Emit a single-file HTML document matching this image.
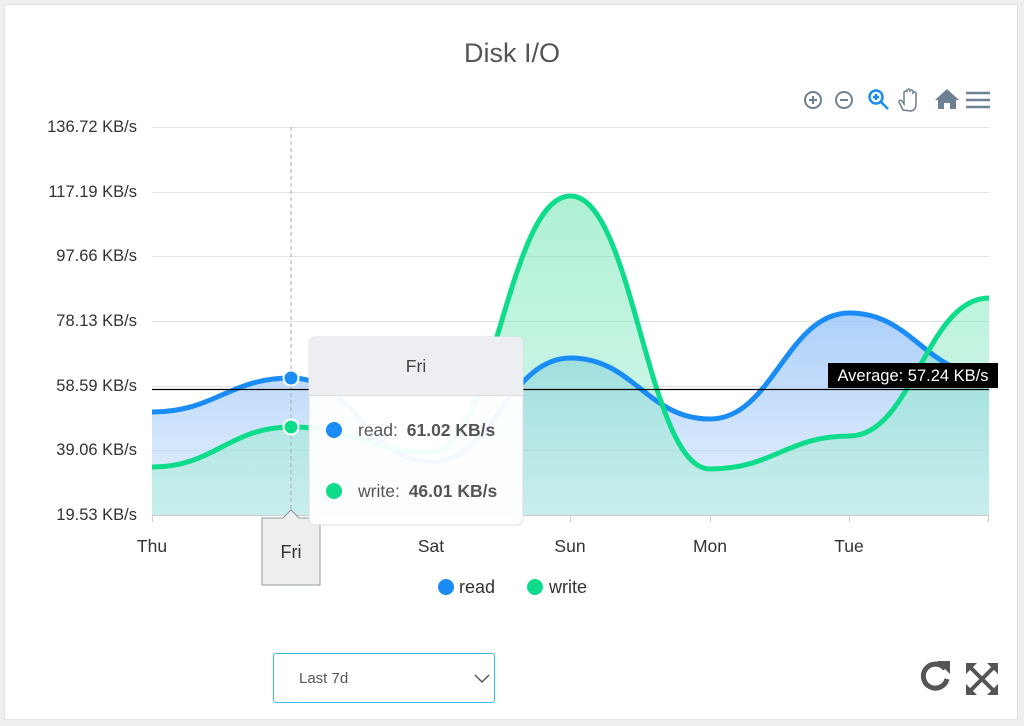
<!DOCTYPE html>
<html><head><meta charset="utf-8"><style>
body{margin:0;width:1024px;height:726px;background:#efefef;font-family:"Liberation Sans",sans-serif;overflow:hidden;position:relative}
.card{position:absolute;left:4px;top:4px;width:1014px;height:716px;background:#fff;border:1px solid #e2e2e2;box-sizing:border-box}
svg{position:absolute;left:0;top:0}
.sel{position:absolute;left:273px;top:653px;width:222px;height:50px;border:1.5px solid #3bb8f0;border-radius:3px;box-sizing:border-box;background:#fff}
.sel span{position:absolute;left:25px;top:16px;font-size:15px;color:#555}
</style></head><body>
<div class="card"></div>
<svg width="1024" height="726" viewBox="0 0 1024 726" id="s">
<defs>
<linearGradient id="gr" x1="0" y1="0" x2="0" y2="1"><stop offset="0" stop-color="#90bff8" stop-opacity=".75"/><stop offset="1" stop-color="#c8e0fb" stop-opacity=".5"/></linearGradient>
<linearGradient id="gw" x1="0" y1="0" x2="0" y2="1"><stop offset="0" stop-color="#5fe3a8" stop-opacity=".5"/><stop offset="1" stop-color="#a6ecd8" stop-opacity=".45"/></linearGradient>
</defs>
<text x="512" y="62" text-anchor="middle" font-size="27" fill="#555">Disk I/O</text>
<g stroke="#e2e2e2" stroke-width="1">
<line x1="152" x2="989" y1="127.5" y2="127.5"/><line x1="152" x2="989" y1="192.5" y2="192.5"/><line x1="152" x2="989" y1="256.5" y2="256.5"/><line x1="152" x2="989" y1="321.5" y2="321.5"/><line x1="152" x2="989" y1="386.5" y2="386.5"/><line x1="152" x2="989" y1="450.5" y2="450.5"/>
</g>
<g font-size="16.5" fill="#333" text-anchor="end">
<text x="137" y="132">136.72 KB/s</text><text x="137" y="197">117.19 KB/s</text><text x="137" y="261">97.66 KB/s</text><text x="137" y="326">78.13 KB/s</text><text x="137" y="391">58.59 KB/s</text><text x="137" y="455">39.06 KB/s</text><text x="137" y="520">19.53 KB/s</text>
</g>
<path id="fr" fill="url(#gr)"/><path id="fw" fill="url(#gw)"/>
<path id="lr" fill="none" stroke="#1a8cf5" stroke-width="5"/><path id="lw" fill="none" stroke="#0fdc8a" stroke-width="5"/>
<line x1="152" x2="989" y1="515.5" y2="515.5" stroke="#ccc"/>
<g stroke="#ccc"><line x1="152.5" x2="152.5" y1="515" y2="522"/><line x1="291.5" x2="291.5" y1="515" y2="522"/><line x1="431.5" x2="431.5" y1="515" y2="522"/><line x1="570.5" x2="570.5" y1="515" y2="522"/><line x1="710.5" x2="710.5" y1="515" y2="522"/><line x1="849.5" x2="849.5" y1="515" y2="522"/><line x1="988.5" x2="988.5" y1="515" y2="522"/></g>
<line x1="291" x2="291" y1="127" y2="515" stroke="#aaa" stroke-dasharray="4,3"/>
<line x1="152" x2="989" y1="389.5" y2="389.5" stroke="#000" stroke-width="1.3"/>
<rect x="828" y="363" width="170" height="25" fill="#000"/>
<text x="913" y="381" text-anchor="middle" font-size="16.5" fill="#fff">Average: 57.24 KB/s</text>
<circle cx="291" cy="378" r="7.5" fill="#1a8cf5" stroke="#fff" stroke-width="2"/>
<circle cx="291" cy="427" r="7.5" fill="#0fdc8a" stroke="#fff" stroke-width="2"/>
<g font-size="17.5" fill="#333" text-anchor="middle">
<text x="152" y="552">Thu</text><text x="431" y="552">Sat</text><text x="570" y="552">Sun</text><text x="710" y="552">Mon</text><text x="849" y="552">Tue</text>
</g>
<path d="M262,518 L283,518 L291,510 L299,518 L320,518 L320,585 L262,585 Z" fill="#eceef0" stroke="#90999f"/>
<text x="291" y="558" text-anchor="middle" font-size="18" fill="#333">Fri</text>
<rect x="309" y="337" width="214" height="188" rx="6" fill="#fff" fill-opacity=".95" stroke="#ddd"/>
<path d="M309,395 V343 a6,6 0 0 1 6,-6 H517 a6,6 0 0 1 6,6 V395 Z" fill="#eceef1"/>
<line x1="309" x2="523" y1="395.5" y2="395.5" stroke="#ddd"/>
<text x="416" y="372" text-anchor="middle" font-size="17.5" fill="#444">Fri</text>
<circle cx="334" cy="430" r="8" fill="#1a8cf5"/><circle cx="334" cy="491" r="8" fill="#0fdc8a"/>
<text x="358" y="436" font-size="17.5" fill="#555">read: <tspan font-weight="bold" dx="4">61.02 KB/s</tspan></text>
<text x="358" y="497" font-size="17.5" fill="#555">write: <tspan font-weight="bold" dx="4">46.01 KB/s</tspan></text>
<circle cx="446" cy="587" r="8" fill="#1a8cf5"/><text x="459" y="593" font-size="18" fill="#333">read</text>
<circle cx="535" cy="587" r="8" fill="#0fdc8a"/><text x="549" y="593" font-size="18" fill="#333">write</text>
<g fill="none" stroke="#6e8192" stroke-width="2">
<circle cx="813" cy="100" r="8"/><path d="M809,100h8M813,96v8"/>
<circle cx="844" cy="100" r="8"/><path d="M840,100h8"/>
</g>
<g fill="none" stroke="#1a8cf5" stroke-width="2.5"><circle cx="876" cy="97" r="6.5"/><path d="M881,102l7,7M873,97h6M876,94v6"/></g>
<path d="M903,110 l-4,-8 q0,-3 3,-1 l2,3 v-12 q2,-2 3,0 v-2 q2,-2 3,0 v1 q2,-2 3,0 v2 q2,-2 3,0 v11 q0,6 -5,7 z" fill="none" stroke="#6e8192" stroke-width="1.5"/>
<path d="M935,100 l12,-11 l12,11 h-3 v9 h-6 v-6 h-6 v6 h-6 v-9 z" fill="#6e8192"/>
<g stroke="#6e8192" stroke-width="2.5"><line x1="966" x2="990" y1="93" y2="93"/><line x1="966" x2="990" y1="100" y2="100"/><line x1="966" x2="990" y1="107" y2="107"/></g>
<path d="M945,669 a12,12 0 1 0 2,10" fill="none" stroke="#555" stroke-width="5"/>
<path d="M937,661 h13 v13 z" fill="#555"/>
<g stroke="#555" stroke-width="4"><line x1="970" y1="667" x2="994" y2="691"/><line x1="994" y1="667" x2="970" y2="691"/></g>
<g fill="#555"><path d="M966,663h11l-11,11z"/><path d="M998,663h-11l11,11z"/><path d="M966,695h11l-11,-11z"/><path d="M998,695h-11l11,-11z"/></g>
</svg>
<div class="sel"><span>Last 7d</span><svg width="20" height="12" style="left:198px;top:19px"><path d="M3,2 l7,7 l7,-7" fill="none" stroke="#555" stroke-width="1.5"/></svg></div>
<script>
var xs=[152,291.5,431,570.5,710,849.5,989];
var r=[412,378,462,358,419,313,375], w=[467,427,452,196,469,436,298];
function p(ys){var d="M"+xs[0]+","+ys[0];for(var i=0;i<6;i++){var dx=(xs[i+1]-xs[i])*0.45;d+=" C"+(xs[i]+dx)+","+ys[i]+" "+(xs[i+1]-dx)+","+ys[i+1]+" "+xs[i+1]+","+ys[i+1];}return d;}
var R=p(r),W=p(w);
document.getElementById("lr").setAttribute("d",R);document.getElementById("lw").setAttribute("d",W);
document.getElementById("fr").setAttribute("d",R+" L989,515 L152,515 Z");document.getElementById("fw").setAttribute("d",W+" L989,515 L152,515 Z");
</script>
</body></html>
